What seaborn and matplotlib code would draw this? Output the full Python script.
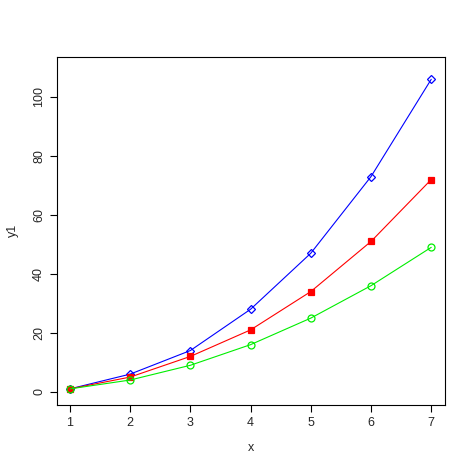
import matplotlib
matplotlib.use("Agg")
import matplotlib.pyplot as plt
import seaborn as sns
import pandas as pd

x = [1, 2, 3, 4, 5, 6, 7]
y_blue = [1, 6, 14, 28, 47, 73, 106]
y_red = [1, 5, 12, 21, 34, 51, 72]
y_green = [1, 4, 9, 16, 25, 36, 49]

sns.set_style("white")
plt.rcParams['font.family'] = ['Liberation Sans', 'DejaVu Sans']
fig = plt.figure(figsize=(4.74, 4.74), dpi=100)
ax = fig.add_axes([0.12, 0.146, 0.819, 0.734])

for y, c, m, fc in [(y_blue, 'blue', 'D', 'none'), (y_red, 'red', 's', 'red'), (y_green, '#00ee00', 'o', 'none')]:
    sns.lineplot(x=x, y=y, ax=ax, color=c, lw=0.8)
    ax.plot(x, y, ls='none', marker=m, ms=5 if m != 'D' else 4.5, mfc=fc, mec=c, mew=0.9)

ax.set_xlim(0.784, 7.23)
ax.set_ylim(-4.4, 113.6)
ax.set_xticks(x)
ax.set_yticks([0, 20, 40, 60, 80, 100])
for s in ax.spines.values():
    s.set_color('black'); s.set_linewidth(0.8)
ax.tick_params(direction='out', length=5, width=0.8, color='black', labelsize=9, bottom=True, left=True)
for lbl in ax.get_yticklabels():
    lbl.set_rotation(90); lbl.set_va('center')
ax.set_xlabel('x', fontsize=9, labelpad=10)
ax.set_ylabel('y1', fontsize=9, labelpad=10)
fig.savefig('out.png', dpi=100)
